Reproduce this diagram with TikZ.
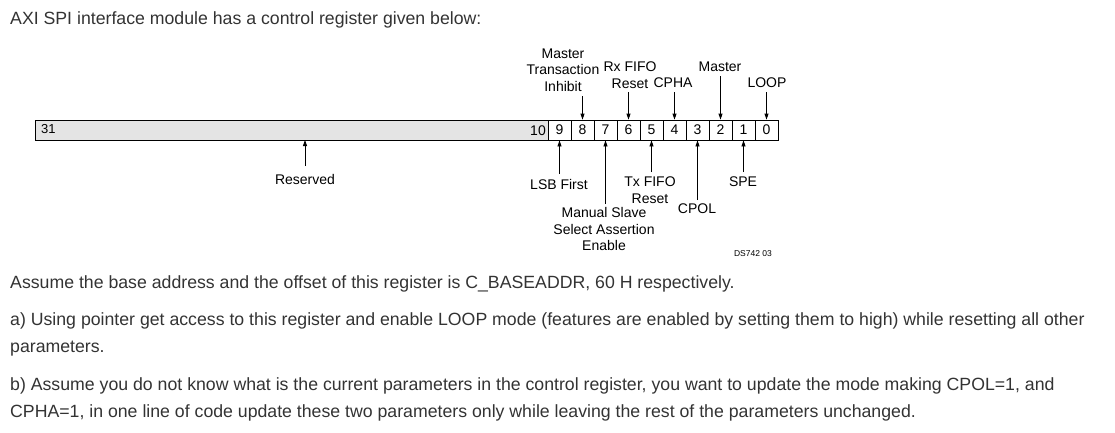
\documentclass[tikz,border=0pt]{standalone}
\usepackage{fontspec}
\setmainfont{Liberation Sans}
\usetikzlibrary{arrows.meta}
\definecolor{txt}{HTML}{333333}
\definecolor{regfill}{HTML}{E4E4E4}
\begin{document}
\begin{tikzpicture}[x=1pt,y=-1pt,
  para/.style={anchor=west,text=txt,font=\fontsize{17.7}{20}\selectfont,inner sep=0pt},
  lbl/.style={font=\fontsize{14}{16.5}\selectfont,align=center,inner sep=0pt,text=black},
  cell/.style={draw,line width=0.8pt,minimum width=23pt,minimum height=20pt,inner sep=0pt,font=\fontsize{14}{16}\selectfont,fill=white},
  arr/.style={-{Triangle[length=6pt,width=4pt]},line width=0.8pt}]
\useasboundingbox (0,0) rectangle (1115,432);
\node[para] (t0) at (10,20) {AXI SPI interface module has a control register given below:};
% register
\node[draw,line width=0.8pt,fill=regfill,minimum width=513pt,minimum height=20pt,inner sep=0pt,anchor=west] (res) at (35,130) {};
\node[anchor=west,inner sep=0pt,font=\fontsize{13}{14}\selectfont] (b31) at (41,129) {31};
\node[anchor=east,inner sep=0pt,font=\fontsize{14}{16}\selectfont] (b10) at (546,131) {10};
\foreach \i in {0,...,9}{
  \node[cell] (c\i) at ({766.5-23*\i},130) {\i};
}
% top labels
\node[lbl] (lmti) at (563,70) {Master\\Transaction\\Inhibit};
\node[lbl] (lrx) at (630,75) {Rx FIFO\\Reset};
\node[lbl] (lcpha) at (673,83) {CPHA};
\node[lbl] (lmaster) at (720,67) {Master};
\node[lbl] (lloop) at (767,83) {LOOP};
\draw[arr] (582.5,96) -- (c8.north);
\draw[arr] (628.5,92) -- (c6.north);
\draw[arr] (674.5,92) -- (c4.north);
\draw[arr] (720.5,76) -- (c2.north);
\draw[arr] (766.5,92) -- (c0.north);
% bottom labels
\node[lbl] (lres) at (305,179) {Reserved};
\node[lbl] (llsb) at (559,184) {LSB First};
\node[lbl] (ltx) at (650,190) {Tx FIFO\\Reset};
\node[lbl] (lman) at (604,229) {Manual Slave\\Select Assertion\\Enable};
\node[lbl] (lcpol) at (697,209) {CPOL};
\node[lbl] (lspe) at (743,182) {SPE};
\node[font=\fontsize{8.5}{9}\selectfont,inner sep=0pt] (ds) at (753,254) {DS742 03};
\coordinate (r1) at (305,140);
\draw[arr] (305,166) -- (r1);
\draw[arr] (559.5,174) -- (c9.south);
\draw[arr] (605.5,204) -- (c7.south);
\draw[arr] (651.5,172) -- (c5.south);
\draw[arr] (697.5,200) -- (c3.south);
\draw[arr] (743.5,172) -- (c1.south);
% paragraphs
\node[para] (p1) at (10,284) {Assume the base address and the offset of this register is C\_BASEADDR, 60 H respectively.};
\node[para] (p2) at (10,321) {a) Using pointer get access to this register and enable LOOP mode (features are enabled by setting them to high) while resetting all other};
\node[para] (p3) at (10,349) {parameters.};
\node[para] (p4) at (10,386) {b) Assume you do not know what is the current parameters in the control register, you want to update the mode making CPOL=1, and};
\node[para] (p5) at (10,413) {CPHA=1, in one line of code update these two parameters only while leaving the rest of the parameters unchanged.};
\end{tikzpicture}
\end{document}
